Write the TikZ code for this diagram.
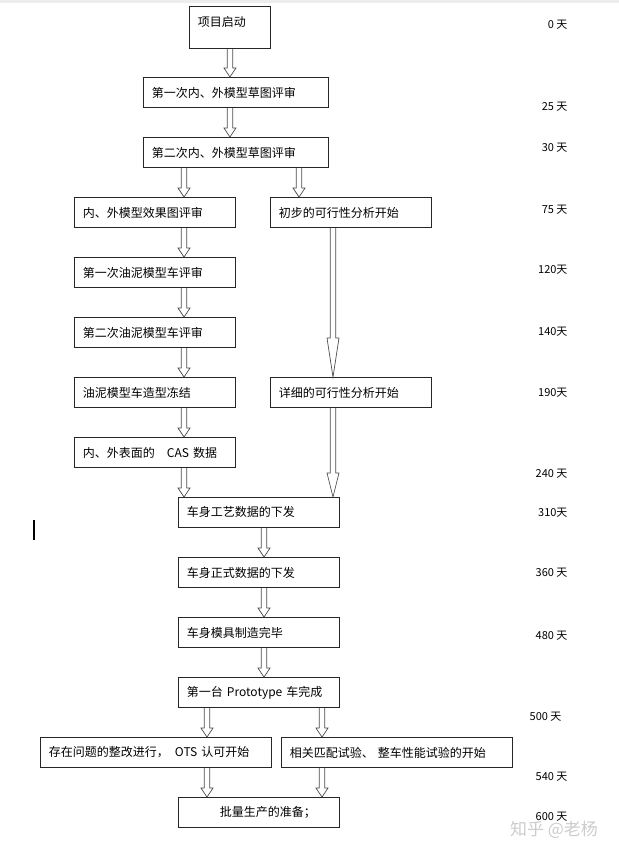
\documentclass[tikz,border=0pt]{standalone}
\usepackage{fontspec}
\setmainfont{Noto Sans CJK SC}
\usetikzlibrary{calc}

\begin{document}
\begin{tikzpicture}[x=1pt, y=-1pt,
  stage/.style={draw=black!85, line width=0.9pt, text width=#1pt, inner xsep=8.5pt,
    inner ysep=0pt, minimum height=30pt, align=left, anchor=north west,
    font=\fontsize{12}{14}\selectfont},
  stage/.default=144,
  day/.style={anchor=east, font=\fontsize{11}{13}\selectfont},
  hollow/.style={draw=black!70, line width=0.7pt, line join=miter,
    to path={let \p1=(\tikztostart), \p2=(\tikztotarget) in
      (\x1-2.8pt,\y1) -- (\x1-2.8pt,\y2+#1pt) -- (\x1-6pt,\y2+#1pt) -- (\x1,\y2)
      -- (\x1+6pt,\y2+#1pt) -- (\x1+2.8pt,\y2+#1pt) -- (\x1+2.8pt,\y1)}},
  hollow/.default=9]
  \useasboundingbox (0,0) rectangle (619,855);
  \fill[black!7] (0,0) rectangle (619,3);
  % columns of the arrows
  \coordinate (cA) at (184,0);
  \coordinate (cB) at (299,0);
  \coordinate (cC) at (333,0);
  \coordinate (cF) at (264,0);
  \coordinate (cD) at (207,0);
  \coordinate (cE) at (322,0);

  \node[stage=64, minimum height=42pt, text depth=13pt] (start) at (189,6) {项目启动};
  \node[stage=168] (s1) at (143,77) {第一次内、外模型草图评审};
  \node[stage=168] (s2) at (143,137) {第二次内、外模型草图评审};
  \node[stage] (e1) at (74,197) {内、外模型效果图评审};
  \node[stage] (f1) at (270,197) {初步的可行性分析开始};
  \node[stage] (c1) at (74,257) {第一次油泥模型车评审};
  \node[stage] (c2) at (74,317) {第二次油泥模型车评审};
  \node[stage] (fz) at (74,377) {油泥模型车造型冻结};
  \node[stage] (f2) at (270,377) {详细的可行性分析开始};
  \node[stage] (cas) at (74,437) {内、外表面的\hspace{12pt}CAS 数据};
  \node[stage] (b1) at (178,497) {车身工艺数据的下发};
  \node[stage] (b2) at (178,557) {车身正式数据的下发};
  \node[stage] (b3) at (178,617) {车身模具制造完毕};
  \node[stage] (proto) at (178,677) {第一台 Prototype 车完成};
  \node[stage=214] (fixo) at (40,737) {存在问题的整改进行，\hspace{6pt}OTS 认可开始};
  \node[stage=214] (test) at (281,737) {相关匹配试验、 整车性能试验的开始};
  \node[stage] (mass) at (178,797) {\hspace*{33pt}批量生产的准备；};

  \draw[hollow] (start.south) to (s1.north);
  \draw[hollow] (s1.south -| start.south) to (s2.north);
  \draw[hollow] (s2.south -| cA) to (e1.north);
  \draw[hollow] (s2.south -| cB) to (f1.north);
  \draw[hollow] (e1.south -| cA) to (c1.north);
  \draw[hollow] (c1.south -| cA) to (c2.north);
  \draw[hollow] (c2.south -| cA) to (fz.north);
  \draw[hollow] (fz.south -| cA) to (cas.north);
  \draw[hollow] (cas.south -| cA) to (b1.north);
  \draw[hollow=39] (f1.south -| cC) to (f2.north);
  \draw[hollow=24] (f2.south -| cC) to (b1.north);
  \draw[hollow] (b1.south -| cF) to (b2.north);
  \draw[hollow] (b2.south -| cF) to (b3.north);
  \draw[hollow] (b3.south -| cF) to (proto.north);
  \draw[hollow] (proto.south -| cD) to (fixo.north);
  \draw[hollow] (proto.south -| cE) to (test.north);
  \draw[hollow] (fixo.south -| cD) to (mass.north);
  \draw[hollow] (test.south -| cE) to (mass.north);

  % time line
  \node[day] (d0) at (571,25) {0 天};
  \node[day] (d25) at (571,107) {25 天};
  \node[day] (d30) at (571,148) {30 天};
  \node[day] (d75) at (571,210) {75 天};
  \node[day] (d120) at (571,270) {120天};
  \node[day] (d140) at (571,332) {140天};
  \node[day] (d190) at (571,393) {190天};
  \node[day] (d240) at (571,474) {240 天};
  \node[day] (d310) at (571,513) {310天};
  \node[day] (d360) at (571,573) {360 天};
  \node[day] (d480) at (571,636) {480 天};
  \node[day] (d500) at (565,717) {500 天};
  \node[day] (d540) at (571,777) {540 天};
  \node[day] (d600) at (571,817) {600 天};

  \fill (33,520) rectangle (35,540);
  \node[text=black!20, font=\fontsize{17}{17}\selectfont] (mark) at (554,830) {知乎 @老杨};
\end{tikzpicture}
\end{document}
